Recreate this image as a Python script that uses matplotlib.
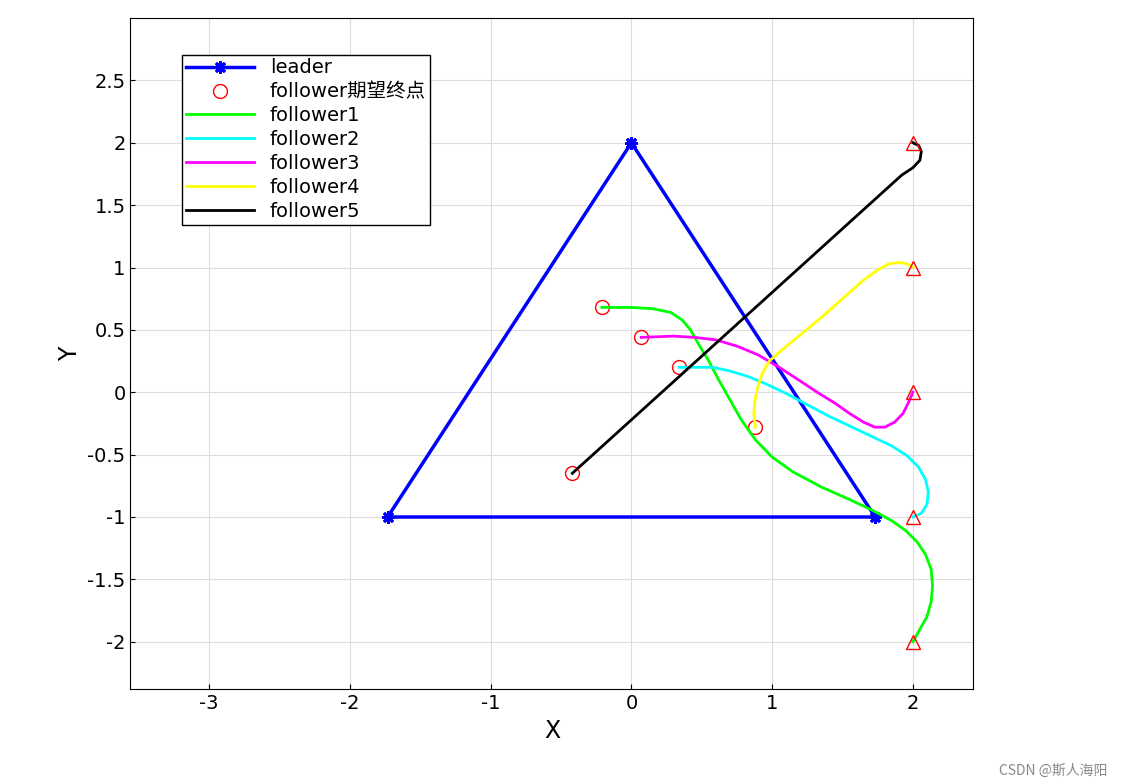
import numpy as np
import matplotlib.pyplot as plt

plt.rcParams['font.family'] = ['DejaVu Sans', 'Noto Sans CJK SC']
plt.rcParams['axes.unicode_minus'] = False

leader_x = [0, -1.732, 1.732, 0]
leader_y = [2, -1, -1, 2]

goal_x = [-0.21, 0.34, 0.07, 0.88, -0.42]
goal_y = [0.68, 0.20, 0.44, -0.28, -0.65]

start_x = [2, 2, 2, 2, 2]
start_y = [-2, -1, 0, 1, 2]

f1_x = [2.0, 2.05, 2.1, 2.13, 2.14, 2.13, 2.09, 2.03, 1.95, 1.85, 1.72, 1.55, 1.35, 1.15, 1.0, 0.88,
        0.78, 0.7, 0.62, 0.55, 0.48, 0.42, 0.36, 0.28, 0.15, 0.0, -0.21]
f1_y = [-2.0, -1.9, -1.8, -1.68, -1.55, -1.42, -1.3, -1.2, -1.11, -1.03, -0.95, -0.86, -0.76, -0.64,
        -0.52, -0.38, -0.22, -0.06, 0.1, 0.25, 0.38, 0.5, 0.58, 0.64, 0.67, 0.68, 0.68]
f2_x = [2.0, 2.06, 2.1, 2.11, 2.09, 2.04, 1.96, 1.85, 1.7, 1.55, 1.4, 1.25, 1.1, 0.95, 0.82, 0.7, 0.58, 0.46, 0.34]
f2_y = [-1.0, -0.97, -0.9, -0.8, -0.7, -0.6, -0.51, -0.43, -0.35, -0.27, -0.19, -0.1, -0.01, 0.07, 0.13,
        0.17, 0.2, 0.2, 0.2]
f3_x = [2.0, 1.97, 1.93, 1.87, 1.8, 1.73, 1.65, 1.55, 1.45, 1.32, 1.2, 1.05, 0.9, 0.75, 0.6, 0.45, 0.3, 0.07]
f3_y = [0.0, -0.08, -0.17, -0.24, -0.28, -0.28, -0.24, -0.17, -0.09, 0.0, 0.09, 0.2, 0.3, 0.37, 0.42, 0.44,
        0.45, 0.44]
f4_x = [2.0, 1.96, 1.9, 1.83, 1.75, 1.65, 1.5, 1.35, 1.2, 1.07, 0.98, 0.93, 0.9, 0.88, 0.87, 0.88]
f4_y = [1.0, 1.03, 1.04, 1.03, 0.98, 0.9, 0.75, 0.6, 0.46, 0.34, 0.25, 0.15, 0.05, -0.05, -0.17, -0.28]
f5_x = [2.0, 2.04, 2.06, 2.05, 2.0, 1.92, -0.42]
f5_y = [2.0, 1.98, 1.93, 1.86, 1.8, 1.74, -0.65]

followers = [(f1_x, f1_y), (f2_x, f2_y), (f3_x, f3_y), (f4_x, f4_y), (f5_x, f5_y)]
colors = ['#00ff00', '#00ffff', '#ff00ff', '#ffff00', 'black']
names = ['follower1', 'follower2', 'follower3', 'follower4', 'follower5']

fig = plt.figure(figsize=(11.24, 7.84), dpi=100)
ax = fig.add_axes([0.116, 0.121, 0.75, 0.856])

ax.plot(leader_x, leader_y, 'b-', marker=(8, 2, 0), markersize=9, lw=2.5,
        markeredgewidth=2, label='leader')
ax.plot(goal_x, goal_y, 'o', mfc='none', mec='red', markersize=10, label='follower期望终点')
for (fx, fy), c, n in zip(followers, colors, names):
    ax.plot(fx, fy, color=c, lw=2, label=n)
ax.plot(start_x, start_y, '^', mfc='none', mec='red', markersize=10)

ax.set_xlim(-3.56, 2.43)
ax.set_ylim(-2.38, 3.0)
ax.set_xticks([-3, -2, -1, 0, 1, 2])
ax.set_yticks(np.arange(-2, 2.6, 0.5))
ax.set_yticklabels(['-2', '-1.5', '-1', '-0.5', '0', '0.5', '1', '1.5', '2', '2.5'])
ax.grid(True, color='#dddddd', lw=0.8)
ax.tick_params(labelsize=14, direction='in')
ax.set_xlabel('X', fontsize=17)
ax.set_ylabel('Y', fontsize=17)
leg = ax.legend(loc='upper left', bbox_to_anchor=(0.05, 0.96), fontsize=14,
                fancybox=False, edgecolor='black', framealpha=1,
                handlelength=3.5, borderpad=0.2, labelspacing=0.25)
leg.get_frame().set_linewidth(1)

fig.text(0.985, 0.012, 'CSDN @斯人海阳', ha='right', fontsize=10, color='#888888',
         family=['Noto Sans CJK SC', 'DejaVu Sans'])
fig.savefig('out.png')
